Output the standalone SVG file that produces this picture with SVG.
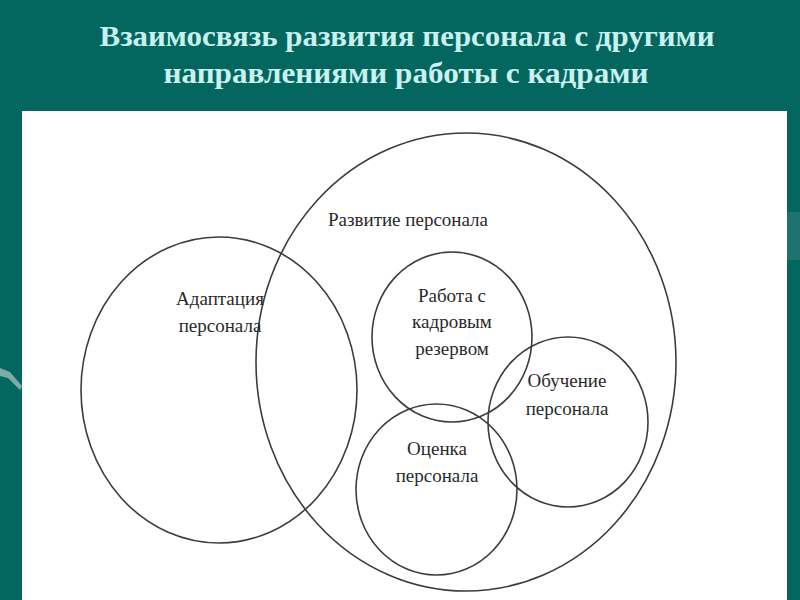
<svg xmlns="http://www.w3.org/2000/svg" width="800" height="600" viewBox="0 0 800 600">
<style>
.c{fill:none;stroke:#3c3c3c;stroke-width:1.6}
.t{font-family:"Liberation Serif","Times New Roman",serif;font-size:19px;fill:#2a2a2a;text-anchor:middle}
.h{font-family:"Liberation Serif","Times New Roman",serif;font-size:30px;font-weight:bold;fill:#c9f1ef;text-anchor:middle}
</style>
<rect x="0" y="0" width="800" height="600" fill="#03675f"/>
<polygon points="0,368 10,372 22,386 20,390 8,378 0,376" fill="#9fbdb9" opacity="0.8"/>
<rect x="787" y="212" width="13" height="48" fill="#2f7d76" opacity="0.6"/>
<rect x="22" y="111" width="765" height="489" fill="#ffffff"/>
<g id="title">
<text class="h" x="407" y="46" textLength="615" lengthAdjust="spacingAndGlyphs">Взаимосвязь развития персонала с другими</text>
<text class="h" x="406" y="83" textLength="485" lengthAdjust="spacingAndGlyphs">направлениями работы с кадрами</text>
</g>
<g id="development">
<ellipse class="c" cx="466" cy="362" rx="210" ry="229"/>
<text class="t" x="408" y="226">Развитие персонала</text>
</g>
<g id="adaptation">
<ellipse class="c" cx="219" cy="390" rx="138" ry="153"/>
<text class="t" x="220" y="305">Адаптация</text>
<text class="t" x="220" y="332">персонала</text>
</g>
<g id="reserve">
<ellipse class="c" cx="452" cy="337" rx="80" ry="85"/>
<text class="t" x="452" y="302">Работа с</text>
<text class="t" x="452" y="328">кадровым</text>
<text class="t" x="452" y="355">резервом</text>
</g>
<g id="training">
<ellipse class="c" cx="568" cy="422" rx="80" ry="85"/>
<text class="t" x="567" y="387">Обучение</text>
<text class="t" x="567" y="415">персонала</text>
</g>
<g id="assessment">
<ellipse class="c" cx="436.5" cy="489.5" rx="80.5" ry="85.5"/>
<text class="t" x="437" y="455">Оценка</text>
<text class="t" x="437" y="482">персонала</text>
</g>
<g id="connectors"></g>
</svg>
